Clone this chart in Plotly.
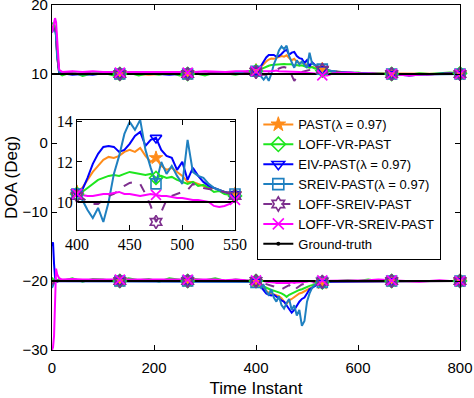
import plotly.graph_objects as go

# ---------------- data ----------------
T = ([0, 2, 4, 6, 8, 10, 14, 20, 40, 60, 80, 100, 120, 133, 150, 170, 190, 210, 230, 250,
      266, 280, 300, 320, 340, 360, 380, 390]
     + [400, 405, 410, 415, 420, 425, 430, 435, 440, 445, 450, 455, 460, 465, 470, 475,
        480, 485, 490, 495, 500, 505, 510, 515, 520, 525, 530, 535, 540, 545, 550]
     + [560, 580, 600, 620, 640, 666, 680, 700, 720, 740, 760, 780, 800])

PAST_UP = ([16.6, 16.9, 16.7, 16.8, 16.2, 13.5, 10.4, 10.2, 10.1, 10.0, 10.1, 10.0, 10.1, 10.0,
            10.1, 10.0, 9.9, 10.0, 10.1, 10.0, 10.0, 10.1, 10.0, 10.1, 10.1, 10.2, 10.3, 10.4]
           + [10.5, 10.7, 11.1, 11.5, 11.8, 12.1, 12.25, 12.2, 12.3, 12.5, 12.6, 12.5, 12.7, 12.3,
              12.0, 12.2, 11.8, 11.6, 11.7, 11.5, 11.3, 11.0, 11.0, 10.9, 10.8, 10.7, 10.7, 10.6,
              10.5, 10.45, 10.4]
           + [10.3, 10.2, 10.1, 10.1, 10.0, 10.0, 10.0, 10.0, 10.0, 10.0, 10.1, 10.0, 10.0])
LVP_UP = ([17.2, 17.4, 17.0, 16.9, 16.0, 12.8, 10.1, 9.8, 10.3, 9.7, 10.1, 10.2, 9.8, 10.0,
           10.2, 9.8, 10.1, 9.9, 10.2, 9.8, 10.0, 10.1, 9.8, 10.2, 10.1, 9.9, 10.2, 10.3]
          + [10.4, 10.5, 10.7, 10.9, 11.1, 11.2, 11.3, 11.35, 11.3, 11.4, 11.5, 11.45, 11.4, 11.35,
             11.4, 11.2, 11.3, 11.2, 11.25, 11.1, 11.0, 10.9, 11.0, 10.8, 10.85, 10.7, 10.5, 10.55,
             10.4, 10.35, 10.3]
          + [10.2, 10.1, 10.2, 10.0, 10.1, 10.0, 10.0, 9.9, 10.1, 10.0, 10.1, 10.2, 10.1])
EIV_UP = ([16.3, 16.6, 16.4, 16.5, 15.8, 13.0, 10.2, 10.1, 9.9, 10.0, 9.9, 10.1, 10.0, 10.0,
           9.9, 10.0, 10.1, 10.0, 9.9, 10.0, 10.0, 10.0, 10.1, 10.0, 10.1, 10.1, 10.3, 10.4]
          + [10.5, 10.6, 11.2, 11.9, 12.4, 12.75, 12.8, 12.75, 12.5, 12.6, 12.9, 13.3, 13.5, 12.8,
             13.1, 13.2, 12.6, 12.3, 12.2, 11.6, 12.0, 11.1, 11.7, 11.3, 11.0, 10.8, 10.7, 10.6,
             10.5, 10.45, 10.4]
          + [10.3, 10.2, 10.1, 10.0, 10.0, 10.0, 9.9, 9.8, 9.9, 10.0, 10.0, 10.1, 10.0])
SREIV_UP = ([16.0, 16.4, 16.6, 16.3, 15.5, 12.5, 10.3, 10.1, 10.0, 10.1, 10.0, 10.0, 10.1, 10.0,
             10.0, 10.1, 10.0, 10.0, 10.1, 10.0, 10.0, 10.0, 10.0, 10.1, 10.0, 10.2, 10.3, 10.4]
            + [10.4, 10.1, 9.6, 9.2, 9.7, 9.0, 10.0, 11.4, 12.3, 13.4, 14.0, 13.6, 14.1, 12.6,
               11.7, 10.9, 12.0, 11.4, 11.8, 11.3, 10.9, 13.1, 11.5, 11.3, 11.2, 10.9, 10.7, 10.6,
               10.5, 10.45, 10.4]
            + [10.3, 10.2, 10.1, 10.0, 10.0, 10.0, 9.9, 9.9, 9.9, 10.0, 10.0, 10.0, 10.0])
LS_UP = ([16.4, 16.7, 16.5, 16.6, 16.0, 13.2, 10.3, 10.2, 10.1, 10.2, 10.1, 10.2, 10.1, 10.0,
          10.2, 10.1, 10.1, 10.2, 10.1, 10.1, 10.0, 10.2, 10.1, 10.2, 10.1, 10.2, 10.3, 10.3]
         + [10.3, 10.2, 10.0, 9.9, 9.9, 10.1, 10.3, 10.4, 10.6, 10.8, 10.95, 11.0, 10.9, 10.4,
            9.8, 9.0, 9.5, 10.1, 10.3, 10.4, 10.5, 10.6, 10.9, 10.8, 10.7, 10.65, 10.6, 10.55,
            10.5, 10.4, 10.3]
         + [10.2, 10.1, 10.1, 10.0, 10.0, 10.0, 9.9, 9.8, 9.9, 10.0, 10.0, 10.1, 10.0])
LVS_UP = ([16.0, 16.8, 17.6, 18.1, 17.5, 15.0, 10.6, 10.3, 10.4, 10.3, 10.4, 10.3, 10.3, 10.2,
           10.3, 10.2, 10.3, 10.3, 10.2, 10.3, 10.2, 10.3, 10.4, 10.3, 10.3, 10.4, 10.4, 10.4]
          + [10.4, 10.35, 10.3, 10.3, 10.35, 10.4, 10.4, 10.45, 10.5, 10.4, 10.4, 10.35, 10.3,
             10.35, 10.4, 10.35, 10.3, 10.3, 10.25, 10.2, 10.2, 10.15, 10.1, 10.1, 10.05, 10.0,
             9.8, 9.75, 9.8, 9.9, 10.1]
          + [10.1, 10.2, 10.1, 10.1, 10.0, 10.0, 9.9, 9.8, 9.9, 10.0, 10.0, 10.0, 10.0])

PAST_LOW = ([-20.5, -20.2, -20.0, -19.9, -20.0, -20.1, -20.0, -20.0, -19.9, -20.0, -20.0, -19.9,
             -20.0, -20.0, -20.0, -19.9, -20.0, -20.0, -19.9, -20.0, -20.0, -20.0, -19.9, -20.0,
             -20.0, -20.0, -20.1, -20.1]
            + [-20.1, -20.3, -20.7, -21.0, -21.4, -21.7, -21.8, -21.9, -22.0, -22.2, -22.5, -23.0,
               -23.3, -22.8, -22.6, -22.3, -22.0, -21.8, -21.7, -21.5, -21.3, -21.0, -20.8, -20.6,
               -20.5, -20.4, -20.3, -20.2, -20.2, -20.1, -20.1]
            + [-20.1, -20.0, -20.0, -20.0, -20.0, -20.0, -20.0, -20.0, -20.0, -20.0, -20.0, -20.0,
               -20.0])
LVP_LOW = ([-19.5, -19.8, -20.0, -19.8, -20.2, -19.9, -19.7, -20.0, -19.6, -20.1, -19.7, -19.8,
            -20.0, -20.0, -19.6, -19.9, -19.7, -20.1, -19.6, -19.8, -20.0, -19.7, -19.9, -19.6,
            -20.0, -19.8, -20.0, -20.0]
           + [-20.0, -20.2, -20.5, -20.8, -21.0, -21.2, -21.3, -21.4, -21.5, -21.6, -21.8, -22.0,
              -22.3, -22.0, -21.8, -21.6, -21.4, -21.3, -21.2, -21.0, -20.9, -20.7, -20.6, -20.5,
              -20.4, -20.3, -20.2, -20.2, -20.1, -20.1, -20.0]
           + [-20.0, -19.9, -20.0, -19.8, -20.0, -20.0, -19.9, -20.0, -20.0, -19.9, -20.0, -20.0,
              -20.0])
EIV_LOW = ([-15.0, -14.4, -17.5, -19.5, -20.0, -20.1, -20.0, -20.0, -20.0, -20.1, -20.0, -20.0,
            -20.0, -20.0, -20.1, -20.0, -20.0, -20.0, -20.1, -20.0, -20.0, -20.0, -20.0, -20.1,
            -20.0, -20.0, -20.1, -20.0]
           + [-20.1, -20.4, -20.9, -21.4, -21.8, -22.0, -22.1, -22.0, -22.3, -22.6, -22.8, -23.0,
              -23.6, -24.0, -24.6, -24.2, -23.5, -23.0, -22.6, -22.4, -21.8, -21.2, -21.0, -20.7,
              -20.5, -20.4, -20.3, -20.2, -20.2, -20.1, -20.1]
           + [-20.1, -20.0, -20.0, -20.0, -20.0, -20.0, -20.1, -20.0, -20.0, -20.0, -20.0, -20.0,
              -20.0])
SREIV_LOW = ([-21.0, -20.6, -20.2, -20.0, -20.1, -20.0, -20.0, -20.0, -20.0, -20.0, -20.1, -20.0,
              -20.0, -20.0, -20.0, -20.0, -20.1, -20.0, -20.0, -20.0, -20.0, -20.0, -20.1, -20.0,
              -20.0, -20.0, -20.0, -20.1]
             + [-20.2, -20.5, -21.0, -20.6, -21.5, -22.0, -21.2, -22.4, -23.0, -22.2, -23.5, -24.0,
                -23.2, -22.6, -24.2, -23.5, -25.0, -24.2, -26.5, -25.8, -23.0, -21.8, -21.0, -20.6,
                -20.4, -20.3, -20.2, -20.1, -20.1, -20.0, -20.0]
             + [-20.0, -20.0, -20.0, -20.0, -20.1, -20.0, -20.0, -20.0, -20.0, -20.0, -20.0, -20.0,
                -20.0])
LS_LOW = ([-20.5, -20.3, -20.1, -20.0, -20.0, -19.9, -20.0, -19.9, -20.0, -19.9, -20.0, -19.9,
           -20.0, -20.0, -19.9, -20.0, -19.9, -20.0, -19.9, -20.0, -20.0, -19.9, -20.0, -19.9,
           -20.0, -19.9, -20.0, -20.0]
          + [-20.0, -20.1, -20.2, -20.3, -20.4, -20.5, -20.6, -20.8, -21.0, -21.1, -21.2, -21.0,
             -20.8, -20.6, -20.9, -21.4, -21.0, -20.7, -20.5, -20.4, -20.3, -20.3, -20.2, -20.2,
             -20.1, -20.1, -20.1, -20.0, -20.0, -20.0, -20.0]
          + [-20.0, -20.0, -20.0, -20.0, -20.0, -20.0, -20.0, -20.0, -20.0, -20.0, -20.0, -20.0,
             -20.0])
LVS_LOW = ([-30.0, -29.6, -28.0, -24.0, -18.2, -19.0, -19.6, -19.8, -19.7, -19.8, -19.8, -19.7,
            -19.8, -19.8, -19.7, -19.8, -19.8, -19.7, -19.8, -19.8, -19.8, -19.7, -19.8, -19.8,
            -19.9, -19.8, -19.9, -19.9]
           + [-19.9, -19.9, -20.0, -20.0, -20.1, -20.1, -20.2, -20.2, -20.3, -20.3, -20.4, -20.3,
              -20.4, -20.3, -20.2, -20.3, -20.2, -20.2, -20.1, -20.1, -20.1, -20.0, -20.1, -20.0,
              -20.0, -20.0, -19.9, -20.0, -20.0, -19.9, -20.0]
           + [-19.9, -19.9, -20.0, -19.9, -19.8, -19.9, -20.0, -20.1, -20.1, -20.0, -19.9, -20.0,
              -20.0])

GT_T = [0, 800]
GT_UP = [10, 10]
GT_LOW = [-20, -20]

MAIN_MARK_T = [133, 266, 400, 530, 666, 800]
INSET_MARK_T = [400, 475, 550]

X_TICKS = [0, 200, 400, 600, 800]
Y_TICKS = [-30, -20, -10, 0, 10, 20]
INSET_X_TICKS = [400, 450, 500, 550]
INSET_Y_TICKS = [10, 12, 14]

NAMES = ["PAST(λ = 0.97)", "LOFF-VR-PAST", "EIV-PAST(λ = 0.97)", "SREIV-PAST(λ = 0.97)",
         "LOFF-SREIV-PAST", "LOFF-VR-SREIV-PAST", "Ground-truth"]

# ---------------- styles ----------------
STYLES = [
    dict(up=PAST_UP, low=PAST_LOW, color="#ff8c1a", dash="solid", symbol="star", filled=True),
    dict(up=LVP_UP, low=LVP_LOW, color="#1ee61e", dash="solid", symbol="diamond-open", filled=False),
    dict(up=EIV_UP, low=EIV_LOW, color="#0000ff", dash="solid", symbol="triangle-down-open", filled=False),
    dict(up=SREIV_UP, low=SREIV_LOW, color="#1f80c0", dash="solid", symbol="square-open", filled=False),
    dict(up=LS_UP, low=LS_LOW, color="#7e2f8e", dash="dash", symbol="hexagram-open", filled=False),
    dict(up=LVS_UP, low=LVS_LOW, color="#ff00ff", dash="solid", symbol="x-thin-open", filled=False),
]

SANS = "Liberation Sans, Arial, sans-serif"
SERIF = "Liberation Serif, Times New Roman, serif"
LW = 2

fig = go.Figure()


def marker_dict(st, size):
    if st["filled"]:
        return dict(symbol=st["symbol"], size=size, color=st["color"],
                    line=dict(color=st["color"], width=1))
    return dict(symbol=st["symbol"], size=size, color=st["color"],
                line=dict(color=st["color"], width=1.6))


# main lines
for st in STYLES:
    fig.add_trace(go.Scatter(x=T + [None] + T, y=st["up"] + [None] + st["low"], mode="lines",
                             line=dict(color=st["color"], width=LW, dash=st["dash"]),
                             showlegend=False, hoverinfo="skip", xaxis="x", yaxis="y"))
fig.add_trace(go.Scatter(x=GT_T + [None] + GT_T, y=GT_UP + [None] + GT_LOW, mode="lines",
                         line=dict(color="black", width=LW), showlegend=False,
                         xaxis="x", yaxis="y"))
# main markers
for st in STYLES:
    idx = [T.index(m) for m in MAIN_MARK_T]
    mx = [T[i] for i in idx]
    fig.add_trace(go.Scatter(x=mx + mx, y=[st["up"][i] for i in idx] + [st["low"][i] for i in idx],
                             mode="markers", marker=marker_dict(st, 10), showlegend=False,
                             cliponaxis=False, xaxis="x", yaxis="y"))

# inset lines
for st in STYLES:
    fig.add_trace(go.Scatter(x=T, y=st["up"], mode="lines",
                             line=dict(color=st["color"], width=LW, dash=st["dash"]),
                             showlegend=False, xaxis="x2", yaxis="y2"))
fig.add_trace(go.Scatter(x=GT_T, y=GT_UP, mode="lines", line=dict(color="black", width=LW),
                         showlegend=False, xaxis="x2", yaxis="y2"))
for st in STYLES:
    idx = [T.index(m) for m in INSET_MARK_T]
    fig.add_trace(go.Scatter(x=[T[i] for i in idx], y=[st["up"][i] for i in idx],
                             mode="markers", marker=marker_dict(st, 10), showlegend=False,
                             cliponaxis=False, xaxis="x2", yaxis="y2"))

# legend entries
for name, st in zip(NAMES, STYLES):
    fig.add_trace(go.Scatter(x=[None], y=[None], mode="lines+markers", name=name,
                             line=dict(color=st["color"], width=LW, dash=st["dash"]),
                             marker=marker_dict(st, 11), xaxis="x", yaxis="y"))
fig.add_trace(go.Scatter(x=[None], y=[None], mode="lines+markers", name=NAMES[6],
                         line=dict(color="black", width=LW),
                         marker=dict(symbol="circle", size=4, color="black"),
                         xaxis="x", yaxis="y"))

axis_common = dict(showline=True, linecolor="black", linewidth=1.3, mirror="ticks",
                   ticks="inside", ticklen=5, tickcolor="black", tickwidth=1.3,
                   showgrid=False, zeroline=False, automargin=False,
                   ticklabeloverflow="allow")

fig.update_layout(
    width=474, height=398,
    margin=dict(l=52, r=14, t=5, b=48),
    paper_bgcolor="white", plot_bgcolor="white",
    font=dict(family=SANS, color="black"),
    showlegend=True,
    legend=dict(x=0.5025, y=0.701, xanchor="left", yanchor="top",
                bordercolor="black", borderwidth=1.3, bgcolor="white",
                font=dict(family=SANS, size=13, color="black"),
                tracegroupgap=0, itemwidth=30),
    xaxis=dict(range=[0, 800], tickvals=X_TICKS, tickfont=dict(size=15, family=SANS),
               ticklabelstandoff=4,
               title=dict(text="Time Instant", font=dict(size=17, family=SANS), standoff=9),
               domain=[0, 1], **axis_common),
    yaxis=dict(range=[-30, 20], tickvals=Y_TICKS, tickfont=dict(size=15, family=SANS),
               title=dict(text="DOA (Deg)", font=dict(size=17, family=SANS), standoff=0),
               domain=[0, 1], **axis_common),
    xaxis2=dict(range=[400, 550], tickvals=INSET_X_TICKS, anchor="y2",
                domain=[0.0613, 0.4485], tickfont=dict(size=16, family=SERIF), **axis_common),
    yaxis2=dict(range=[8.6, 14.1], tickvals=INSET_Y_TICKS, anchor="x2",
                domain=[0.348, 0.667], tickfont=dict(size=16, family=SERIF), **axis_common),
)

fig.write_html("out.html", config={"displayModeBar": False},
               post_script="document.body.style.margin='0';document.body.style.overflow='hidden';")
